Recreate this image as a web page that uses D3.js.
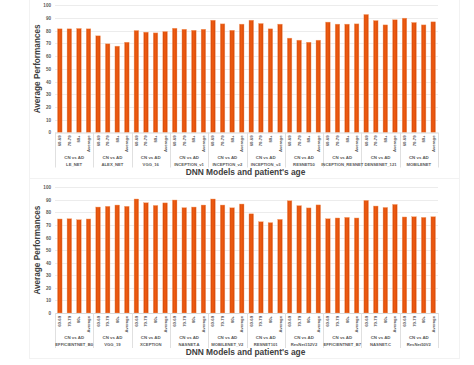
<!DOCTYPE html>
<html>
<head>
<meta charset="utf-8">
<script src="https://cdn.jsdelivr.net/npm/d3@7"></script>
<style>
  body { margin: 0; background: #fff; }
  svg { display: block; font-family: "Liberation Sans", Arial, sans-serif; }
</style>
</head>
<body>
<svg id="chart" width="474" height="365"></svg>
<script>
// data
const ageGroups = ["60-69", "70-79", "80+", "Average"];
const comparison = "CN vs AD";

const modelsTop = ["LE_NET", "ALEX_NET", "VGG_16", "INCEPTION_v1", "INCEPTION_v2",
                   "INCEPTION_v3", "RESNET50", "INCEPTION_RESNET", "DENSENET_121", "MOBILENET"];
const valuesTop = [
  [81.5, 81.5, 81.8, 81.5],
  [76.0, 69.7, 67.9, 71.0],
  [80.2, 78.9, 78.3, 79.4],
  [82.0, 81.2, 80.4, 81.2],
  [88.3, 85.4, 80.4, 85.2],
  [88.3, 85.7, 81.5, 85.2],
  [74.2, 72.6, 71.0, 72.6],
  [86.8, 85.2, 85.2, 85.4],
  [92.8, 88.0, 84.6, 88.6],
  [89.9, 86.5, 84.6, 87.0]
];

const modelsBottom = ["EFFICIENTNET_B0", "VGG_19", "XCEPTION", "NASNET.A", "MOBILENET_V2",
                      "RESNET101", "ResNet152V2", "EFFICIENTNET_B7", "NASNET.C", "ResNet50V2"];
const valuesBottom = [
  [74.8, 75.0, 74.2, 74.8],
  [84.3, 84.9, 85.9, 84.9],
  [90.7, 87.7, 85.6, 87.6],
  [89.9, 83.8, 84.3, 85.9],
  [90.7, 85.9, 83.7, 86.7],
  [78.9, 72.6, 71.9, 74.5],
  [89.3, 85.4, 83.6, 86.0],
  [75.0, 75.6, 76.1, 75.6],
  [89.6, 85.1, 84.0, 86.4],
  [76.4, 76.6, 76.1, 76.6]
];

const yTicks = [0, 10, 20, 30, 40, 50, 60, 70, 80, 90, 100];
const yTitle = "Average Performances";
const xTitle = "DNN Models and patient's age";

const svg = d3.select("#chart");

// bar gradient
const defs = svg.append("defs");
const grad = defs.append("linearGradient").attr("id", "barGrad")
  .attr("x1", "0").attr("x2", "1").attr("y1", "0").attr("y2", "0");
grad.append("stop").attr("offset", "0%").attr("stop-color", "#d4480a");
grad.append("stop").attr("offset", "45%").attr("stop-color", "#f05c10");
grad.append("stop").attr("offset", "100%").attr("stop-color", "#d4480a");

const left = 55, right = 438;

function drawPanel(top, bottom, models, values, frameTop, frameBottom) {
  const g = svg.append("g");

  // faint outer frame
  g.append("rect")
    .attr("x", 29.5).attr("y", frameTop + 0.5)
    .attr("width", 430).attr("height", frameBottom - frameTop)
    .attr("fill", "none").attr("stroke", "#f2f2f2");

  const rows = [];
  models.forEach((m, i) => ageGroups.forEach((a, j) => rows.push({ model: m, age: a, key: m + "|" + a, v: values[i][j] })));

  const x = d3.scaleBand().domain(rows.map(d => d.key)).range([left, right])
    .paddingInner(0.52).paddingOuter(0.26);
  const xGroup = d3.scaleBand().domain(models).range([left, right]);
  const y = d3.scaleLinear().domain([0, 100]).range([bottom, top]);

  // gridlines
  g.append("g").selectAll("line").data(yTicks.filter(t => t > 0)).join("line")
    .attr("x1", left).attr("x2", right)
    .attr("y1", d => Math.round(y(d)) + 0.5).attr("y2", d => Math.round(y(d)) + 0.5)
    .attr("stroke", "#ececec").attr("stroke-width", 1);

  // y axis
  const yAxis = d3.axisLeft(y).tickValues(yTicks).tickSize(0).tickPadding(4);
  const ya = g.append("g").attr("transform", `translate(${left},0)`).call(yAxis);
  ya.select(".domain").remove();
  ya.selectAll("text").attr("font-size", 4.6).attr("fill", "#595959").attr("font-weight", "bold");

  // bars
  g.append("g").selectAll("rect").data(rows).join("rect")
    .attr("x", d => x(d.key))
    .attr("y", d => y(d.v))
    .attr("width", x.bandwidth())
    .attr("height", d => y(0) - y(d.v))
    .attr("fill", "url(#barGrad)")
    .attr("stroke", "#f7a774").attr("stroke-width", 0.4);

  // baseline
  g.append("line").attr("x1", left).attr("x2", right)
    .attr("y1", y(0) + 0.5).attr("y2", y(0) + 0.5)
    .attr("stroke", "#d9d9d9");

  // age labels (rotated)
  g.append("g").selectAll("text").data(rows).join("text")
    .attr("transform", d => `translate(${x(d.key) + x.bandwidth() / 2 + 1.5},${y(0) + 3}) rotate(-90)`)
    .attr("text-anchor", "end")
    .attr("font-size", 4.2).attr("font-weight", "bold").attr("fill", "#595959")
    .text(d => d.age);

  // group separators
  const bounds = models.map(m => xGroup(m)).concat([right]);
  g.append("g").selectAll("line").data(bounds).join("line")
    .attr("x1", d => Math.round(d) + 0.5).attr("x2", d => Math.round(d) + 0.5)
    .attr("y1", y(0)).attr("y2", y(0) + 35)
    .attr("stroke", "#e0e0e0");

  // comparison + model labels
  g.append("g").selectAll("text").data(models).join("text")
    .attr("x", d => xGroup(d) + xGroup.bandwidth() / 2)
    .attr("y", y(0) + 26)
    .attr("text-anchor", "middle")
    .attr("font-size", 4.4).attr("font-weight", "bold").attr("fill", "#595959")
    .text(comparison);
  g.append("g").selectAll("text").data(models).join("text")
    .attr("x", d => xGroup(d) + xGroup.bandwidth() / 2)
    .attr("y", y(0) + 33)
    .attr("text-anchor", "middle")
    .attr("font-size", 4.2).attr("font-weight", "bold").attr("fill", "#595959")
    .text(d => d);

  // axis titles
  g.append("text")
    .attr("transform", `translate(40,${(top + bottom) / 2}) rotate(-90)`)
    .attr("text-anchor", "middle")
    .attr("font-size", 8.2).attr("font-weight", "bold").attr("fill", "#404040")
    .text(yTitle);
  g.append("text")
    .attr("x", 245.5).attr("y", y(0) + 42)
    .attr("text-anchor", "middle")
    .attr("font-size", 8.4).attr("font-weight", "bold").attr("fill", "#404040")
    .text(xTitle);
}

drawPanel(5.3, 132.5, modelsTop, valuesTop, -1, 178);
drawPanel(187.3, 313, modelsBottom, valuesBottom, 178, 358);
</script>
</body>
</html>
